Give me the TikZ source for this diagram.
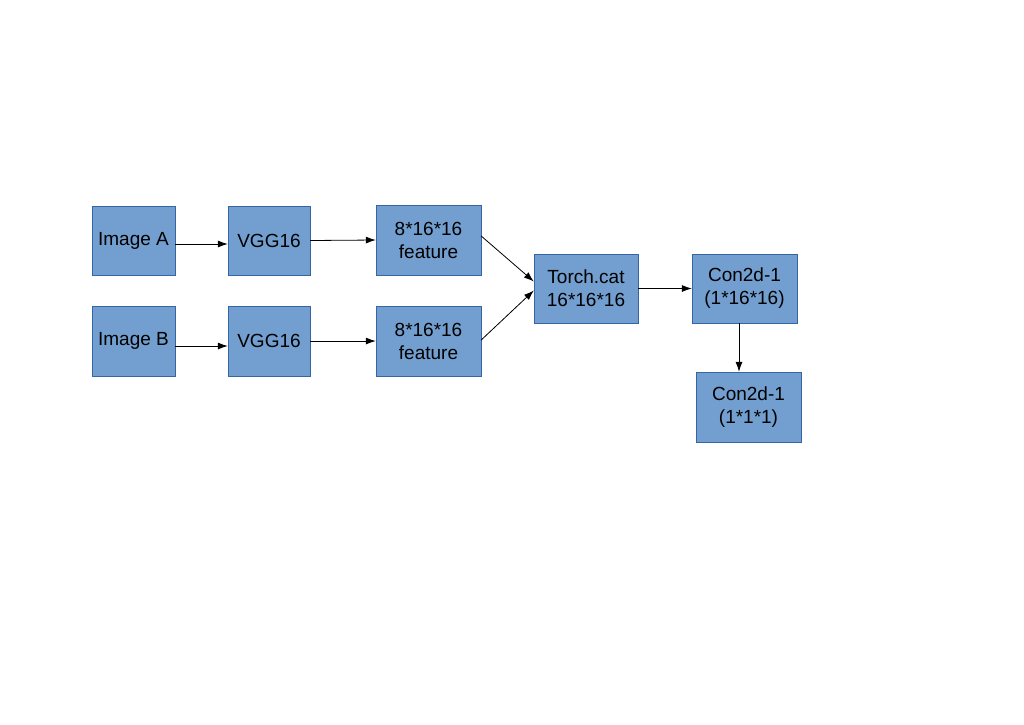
\documentclass[tikz,border=0pt]{standalone}
\usepackage{fontspec}
\setmainfont{Liberation Sans}
\usetikzlibrary{arrows.meta}
\definecolor{boxfill}{HTML}{729FCF}
\definecolor{boxline}{HTML}{3465A4}
\begin{document}
\begin{tikzpicture}[x=1pt,y=-1pt,
  blk/.style={draw=boxline,fill=boxfill,inner sep=0pt,align=center,font=\fontsize{19}{23}\selectfont},
  conn/.style={-{Latex[length=10pt,width=7pt]},line width=0.8pt}]
\useasboundingbox (0,0) rectangle (1024,724);
\node[blk,minimum width=83pt,minimum height=69pt] (ia) at (133.5,240.5) {Image A};
\node[blk,minimum width=82pt,minimum height=69pt] (va) at (269,240.5) {VGG16};
\node[blk,minimum width=105pt,minimum height=70pt] (fa) at (428.5,240) {8*16*16\\feature};
\node[blk,minimum width=83pt,minimum height=70pt] (ib) at (133.5,341) {Image B};
\node[blk,minimum width=82pt,minimum height=70pt] (vb) at (269,341) {VGG16};
\node[blk,minimum width=105pt,minimum height=70pt] (fb) at (428.5,341) {8*16*16\\feature};
\node[blk,minimum width=104pt,minimum height=69pt] (tc) at (586,288.5) {Torch.cat\\16*16*16};
\node[blk,minimum width=105pt,minimum height=69pt] (c1) at (744.5,288.5) {Con2d-1\\(1*16*16)};
\node[blk,minimum width=105pt,minimum height=70pt] (c2) at (748.5,407) {Con2d-1\\(1*1*1)};
\draw[conn] ([yshift=-3.5pt]ia.east) -- ([yshift=-3.5pt]va.west);
\draw[conn] (va.east) -- (fa.west);
\draw[conn] ([yshift=-5pt]ib.east) -- ([yshift=-5pt]vb.west);
\draw[conn] (vb.east) -- (fb.west);
\draw[conn] ([yshift=4pt]fa.east) -- ([yshift=7pt]tc.west);
\draw[conn] ([yshift=1pt]fb.east) -- ([yshift=-2pt]tc.west);
\draw[conn] (tc.east) -- (c1.west);
\draw[conn] ([xshift=-5.5pt]c1.south) -- ([xshift=-9.5pt]c2.north);
\end{tikzpicture}
\end{document}
